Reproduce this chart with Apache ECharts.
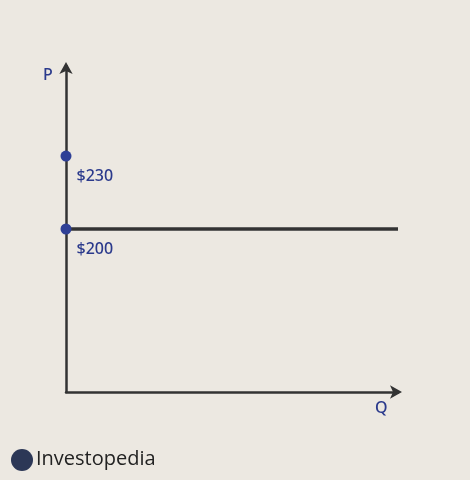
<!DOCTYPE html>
<html>
<head>
<meta charset="utf-8">
<script src="https://cdn.jsdelivr.net/npm/echarts@6/dist/echarts.min.js"></script>
<style>
html,body{margin:0;padding:0;background:#ece8e1;}
#chart{width:470px;height:480px;}
</style>
</head>
<body>
<div id="chart"></div>
<script>
// price levels
var priceLine = [[0, 200], [100, 200]];
var pricePoints = [[0, 230], [0, 200]];
var pointLabels = ['$230', '$200'];

var myChart = echarts.init(document.getElementById('chart'));
var option = {
	backgroundColor: '#ece8e1',
	animation: false,
	grid: { left: 66, right: 72, top: 66, bottom: 88 },
	xAxis: {
		type: 'value', min: 0, max: 100,
		axisLine: { lineStyle: { color: '#333', width: 2.5 }, symbol: ['none', 'arrow'], symbolSize: [10, 12], symbolOffset: [0, 4] },
		axisTick: { show: false }, axisLabel: { show: false }, splitLine: { show: false }
	},
	yAxis: {
		type: 'value', min: 133, max: 267,
		axisLine: { lineStyle: { color: '#333', width: 2.5 }, symbol: ['none', 'arrow'], symbolSize: [10, 12], symbolOffset: [0, 4] },
		axisTick: { show: false }, axisLabel: { show: false }, splitLine: { show: false }
	},
	series: [{
		type: 'line',
		data: priceLine,
		symbol: 'none',
		lineStyle: { color: '#333', width: 3.5 }
	}, {
		type: 'scatter',
		data: pricePoints.map(function(p, i) {
			return { value: p, label: { formatter: pointLabels[i] } };
		}),
		symbolSize: 11,
		itemStyle: { color: '#2f4096', opacity: 1 },
		z: 5,
		label: {
			show: true, position: 'right', distance: 5, offset: [0, 20],
			color: '#2b3a8c', fontSize: 16, fontWeight: 500, fontFamily: 'Noto Sans'
		}
	}],
	graphic: [
		{ type: 'text', left: 43, top: 67, style: { text: 'P', fill: '#2b3a8c', font: '500 16px "Noto Sans"' } },
		{ type: 'text', left: 375, top: 400, style: { text: 'Q', fill: '#2b3a8c', font: '500 16px "Noto Sans"' } },
		{ type: 'circle', shape: { cx: 22, cy: 460, r: 11 }, style: { fill: '#2c3756' } },
		{ type: 'text', left: 36, top: 449, style: { text: 'Investopedia', fill: '#222', font: '20px "Open Sans"' } }
	]
};
myChart.setOption(option);
</script>
</body>
</html>
